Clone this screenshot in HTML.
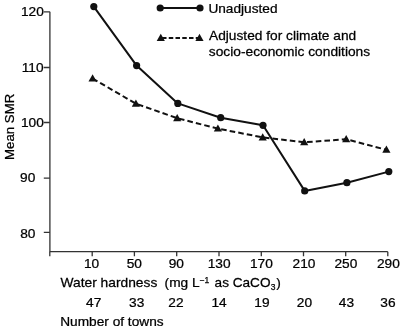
<!DOCTYPE html>
<html><head><meta charset="utf-8">
<style>
html,body{margin:0;padding:0;background:#fff;}
svg{display:block;}
text{font-family:"Liberation Sans",sans-serif;font-size:13px;fill:#000;stroke:#000;stroke-width:0.25px;}
</style></head><body>
<svg width="400" height="329" viewBox="0 0 400 329">
<rect width="400" height="329" fill="#fff"/>
<g stroke="#333" stroke-width="1.3" fill="none">
<path d="M49.9 11.8V251.7H387.8"/>
<path d="M43.8 11.8H49.9M43.8 67.5H49.9M43.8 122.5H49.9M43.8 178.2H49.9M43.8 232.4H49.9"/>
<path d="M49.8 251.7V256.2M92.2 251.7V256.2M134.4 251.7V256.2M176.7 251.7V256.2M219 251.7V256.2M261.3 251.7V256.2M303.5 251.7V256.2M345.7 251.7V256.2M387.8 251.7V256.2"/>
</g>
<text transform="translate(83.99,268.4) scale(1.0550,1)">10</text>
<text transform="translate(126.70,268.4) scale(1.0550,1)">50</text>
<text transform="translate(168.72,268.4) scale(1.0550,1)">90</text>
<text transform="translate(207.68,268.4) scale(1.0550,1)">130</text>
<text transform="translate(249.93,268.4) scale(1.0550,1)">170</text>
<text transform="translate(292.53,268.4) scale(1.0550,1)">210</text>
<text transform="translate(334.41,268.4) scale(1.0550,1)">250</text>
<text transform="translate(376.91,268.4) scale(1.0550,1)">290</text>
<text transform="translate(86.04,306.6) scale(1.0550,1)">47</text>
<text transform="translate(129.06,306.6) scale(1.0550,1)">33</text>
<text transform="translate(168.33,306.6) scale(1.0550,1)">22</text>
<text transform="translate(211.49,306.6) scale(1.0550,1)">14</text>
<text transform="translate(254.35,306.6) scale(1.0550,1)">19</text>
<text transform="translate(296.85,306.6) scale(1.0550,1)">20</text>
<text transform="translate(338.79,306.6) scale(1.0550,1)">43</text>
<text transform="translate(380.31,306.6) scale(1.0550,1)">36</text>
<text transform="translate(60.50,287.4) scale(1.0619,1)">Water hardness</text>
<text transform="translate(164.57,287.4) scale(1.0550,1)">(mg L</text>
<text transform="translate(199.64,282.8) scale(1.0000,1)" style="font-size:8.5px">−1</text>
<text transform="translate(214.57,287.4) scale(1.0478,1)">as CaCO</text>
<text transform="translate(270.77,290) scale(1.0000,1)" style="font-size:8.5px">3</text>
<text transform="translate(276.20,287.4) scale(1.0550,1)">)</text>
<text transform="translate(60.18,325.6) scale(1.0533,1)">Number of towns</text>
<text transform="translate(208.40,13.3) scale(1.0510,1)">Unadjusted</text>
<text transform="translate(209.00,40.3) scale(1.0560,1)">Adjusted for climate and</text>
<text transform="translate(208.78,56.1) scale(1.0602,1)">socio-economic conditions</text>
<text transform="translate(20.90,15.6) scale(1.0550,1)">120</text>
<text transform="translate(21.66,71.9) scale(1.0550,1)">110</text>
<text transform="translate(20.90,126.9) scale(1.0550,1)">100</text>
<text transform="translate(20.10,182.4) scale(1.0550,1)">90</text>
<text transform="translate(20.20,237.9) scale(1.0550,1)">80</text>
<text transform="translate(13.8,160) rotate(-90) scale(1.02,1)">Mean SMR</text>
<g stroke="#111" stroke-width="2" fill="none" stroke-linejoin="round">
<path d="M160 8H200"/>
<path d="M162 38H198" stroke-dasharray="4.5 2.25"/>
<polyline points="93.8,6.6 136.6,65.6 177.8,103.4 220.7,117.7 263,125.3 304.7,190.9 346.9,182.7 388.8,171.6"/>
<polyline stroke-dasharray="5.6 3.1" points="92.6,78.5 135.9,103.7 177.2,118.2 217.9,128.6 262.7,137.4 304.2,142.3 346.2,139.2 386.4,149.8"/>
</g><g fill="#111">
<circle cx="93.8" cy="6.6" r="3.6"/>
<circle cx="136.6" cy="65.6" r="3.6"/>
<circle cx="177.8" cy="103.4" r="3.6"/>
<circle cx="220.7" cy="117.7" r="3.6"/>
<circle cx="263" cy="125.3" r="3.6"/>
<circle cx="304.7" cy="190.9" r="3.6"/>
<circle cx="346.9" cy="182.7" r="3.6"/>
<circle cx="388.8" cy="171.6" r="3.6"/>
<circle cx="160.2" cy="8" r="3.6"/>
<circle cx="200" cy="8" r="3.6"/>
<path d="M92.6 74.3L96.7 81.5H88.5Z"/>
<path d="M135.9 99.5L140.0 106.7H131.8Z"/>
<path d="M177.2 114.0L181.3 121.2H173.1Z"/>
<path d="M217.9 124.4L222.0 131.6H213.8Z"/>
<path d="M262.7 133.2L266.8 140.4H258.6Z"/>
<path d="M304.2 138.1L308.3 145.3H300.1Z"/>
<path d="M346.2 135.0L350.3 142.2H342.1Z"/>
<path d="M386.4 145.6L390.5 152.8H382.3Z"/>
<path d="M160.8 33.7L164.9 40.9H156.7Z"/>
<path d="M199.5 33.7L203.6 40.9H195.4Z"/>
</g></svg></body></html>
